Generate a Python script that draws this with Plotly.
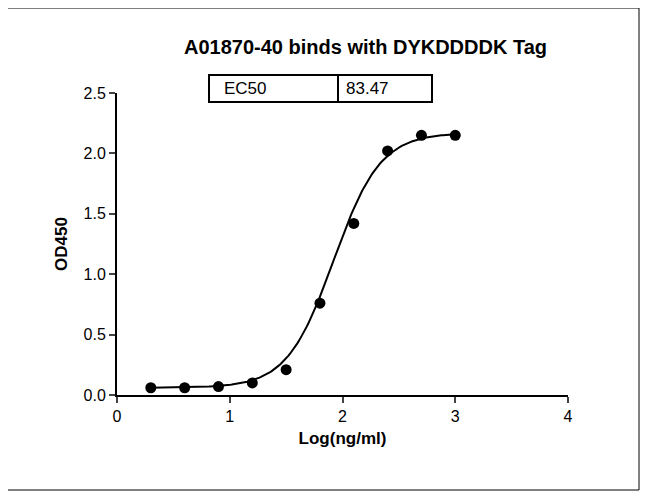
import numpy as np
import plotly.graph_objects as go

log_conc = [0.3, 0.6, 0.9, 1.2, 1.5, 1.8, 2.1, 2.4, 2.7, 3.0]
od450 = [0.06, 0.06, 0.07, 0.10, 0.21, 0.76, 1.42, 2.02, 2.15, 2.15]

# fitted 4PL parameters
bottom, top, ec50, hill = 0.06, 2.17, 83.47, 2.1
log_ec50 = np.log10(ec50)
xc = np.linspace(0.3, 3.0, 200)
yc = bottom + (top - bottom) / (1 + 10 ** ((log_ec50 - xc) * hill))

fig = go.Figure()
fig.add_trace(go.Scatter(x=xc, y=yc, mode="lines", line=dict(color="black", width=2), hoverinfo="skip"))
fig.add_trace(go.Scatter(x=log_conc, y=od450, mode="markers", marker=dict(color="black", size=11)))

W, H = 451, 302  # plot area px
def px(x):
    return (x - 117) / W
def py(y):
    return (395 - y) / H

fig.update_layout(
    width=650, height=499, showlegend=False,
    paper_bgcolor="white", plot_bgcolor="white",
    margin=dict(l=109, r=90, t=85, b=112),
    font=dict(family="Arial, Liberation Sans", color="black", size=16),
    title=dict(text="<b>A01870-40 binds with DYKDDDDK Tag</b>", x=0.55, xanchor="center",
               y=1 - 39 / 499, yanchor="middle", font=dict(size=20)),
    xaxis=dict(range=[0, 4], tickvals=[0, 1, 2, 3, 4], showline=True, linecolor="black", linewidth=2,
               ticks="outside", ticklen=6, tickwidth=2, showgrid=False, zeroline=False,
               title=dict(text="<b>Log(ng/ml)</b>", font=dict(size=17), standoff=8)),
    yaxis=dict(range=[0, 2.5], tickvals=[0, 0.5, 1, 1.5, 2, 2.5], tickformat=".1f",
               showline=True, linecolor="black", linewidth=2, ticks="outside", ticklen=6, tickwidth=2,
               showgrid=False, zeroline=False,
               title=dict(text="<b>OD450</b>", font=dict(size=17), standoff=12)),
)

# EC50 box
fig.add_shape(type="rect", xref="paper", yref="paper", x0=px(209), x1=px(432),
              y0=py(102), y1=py(75), line=dict(color="black", width=2))
fig.add_shape(type="line", xref="paper", yref="paper", x0=px(338), x1=px(338),
              y0=py(102), y1=py(75), line=dict(color="black", width=2))
fig.add_annotation(xref="paper", yref="paper", x=px(222), y=py(88), text="EC50",
                   showarrow=False, xanchor="left", yanchor="middle", font=dict(size=17))
fig.add_annotation(xref="paper", yref="paper", x=px(344), y=py(88), text="83.47",
                   showarrow=False, xanchor="left", yanchor="middle", font=dict(size=17))

# outer frame
fig.add_shape(type="rect", xref="paper", yref="paper", x0=px(1), x1=px(639),
              y0=py(490), y1=py(8), line=dict(color="black", width=1))

fig.write_html("out.html")
